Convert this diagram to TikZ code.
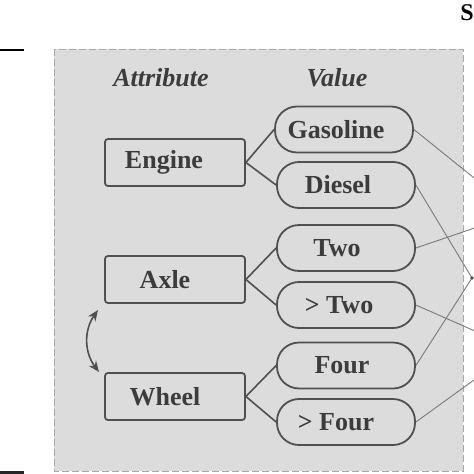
\documentclass[tikz,border=0pt]{standalone}
\usepackage{fontspec}
\setmainfont{Liberation Serif}
\usetikzlibrary{arrows.meta}
\definecolor{bgfill}{HTML}{DCDCDC}
\definecolor{dashcol}{HTML}{A8A8A8}
\definecolor{boxline}{HTML}{505050}
\definecolor{txtcol}{HTML}{3C3C3C}
\definecolor{thinline}{HTML}{7A7A7A}
\tikzset{
  attrbox/.style={draw=boxline, line width=1.8pt, rounded corners=3pt,
    minimum width=140pt, minimum height=47pt, inner sep=0pt},
  valbox/.style={draw=boxline, line width=1.8pt, rounded corners=22pt,
    minimum width=138pt, minimum height=46pt, inner sep=0pt},
  lbl/.style={text=txtcol, font=\fontsize{26}{30}\selectfont\bfseries, inner sep=0pt},
  hdr/.style={text=txtcol, font=\fontsize{26}{30}\selectfont\bfseries\itshape, inner sep=0pt},
  conn/.style={draw=boxline, line width=1.6pt},
  thinconn/.style={draw=thinline, line width=0.9pt},
}
\begin{document}
\begin{tikzpicture}[x=1pt,y=-1pt]
\useasboundingbox (0,0) rectangle (474,474);
\begin{scope}
\clip (0,0) rectangle (474,474);
% left rule marks
\draw[line width=1.2pt, black] (0,50) -- (24,50);
\draw[line width=3pt, black!85] (0,472.5) -- (24,472.5);
% top right letter
\node[anchor=east, inner sep=0pt, font=\fontsize{24}{28}\selectfont\bfseries] (sletter) at (474,13) {S};
% dashed panel
\draw[fill=bgfill, draw=dashcol, line width=1pt, dash pattern=on 7pt off 3pt] (54,49) rectangle (463,471);
% headers
\node[hdr] (hattr) at (161,78) {Attribute};
\node[hdr] (hval) at (337,78) {Value};
% attribute boxes
\node[attrbox, label={[lbl, xshift=-11pt]center:Engine}] (engine) at (175,162.5) {};
\node[attrbox, label={[lbl, xshift=-10pt]center:Axle}] (axle) at (175,279.5) {};
\node[attrbox, label={[lbl, xshift=-10pt]center:Wheel}] (wheel) at (175,396.5) {};
% value boxes
\node[valbox, label={[lbl, xshift=-8pt]center:Gasoline}] (gas) at (344,129.5) {};
\node[valbox, label={[lbl, xshift=-8pt]center:Diesel}] (diesel) at (346,185) {};
\node[valbox, label={[lbl, xshift=-9pt]center:Two}] (two) at (346,248) {};
\node[valbox, label={[lbl, xshift=-7pt]center:{> Two}}] (gtwo) at (346,305) {};
\node[valbox, label={[lbl, xshift=-4pt]center:Four}] (four) at (346,365.5) {};
\node[valbox, label={[lbl, xshift=-10pt]center:{> Four}}] (gfour) at (346,422) {};
% left connectors
\draw[conn] (engine.east) -- (gas.west);
\draw[conn] (engine.east) -- (diesel.west);
\draw[conn] (axle.east) -- (two.west);
\draw[conn] (axle.east) -- (gtwo.west);
\draw[conn] (wheel.east) -- (four.west);
\draw[conn] (wheel.east) -- (gfour.west);
% right connectors
\coordinate (rgas) at (476,179.5);
\coordinate (junc) at (472,278);
\coordinate (rtwo) at (476,227.5);
\coordinate (rgtwo) at (476,331.5);
\coordinate (rgfour) at (476,378.5);
\draw[thinconn] (gas.east) -- (rgas);
\draw[thinconn] (diesel.east) -- (junc);
\draw[thinconn] (two.east) -- (rtwo);
\draw[thinconn] (gtwo.east) -- (rgtwo);
\draw[thinconn] (four.east) -- (junc);
\draw[thinconn] (gfour.east) -- (rgfour);
\fill[boxline] (junc) circle (1.8pt);
% double arrow
\coordinate (arrA) at (98,310);
\coordinate (arrB) at (99,372);
\draw[boxline, line width=1.6pt, {Stealth[length=11pt,width=9pt]}-{Stealth[length=11pt,width=9pt]}]
  (arrA) .. controls (84,330) and (84,352) .. (arrB);
\end{scope}
\end{tikzpicture}
\end{document}
